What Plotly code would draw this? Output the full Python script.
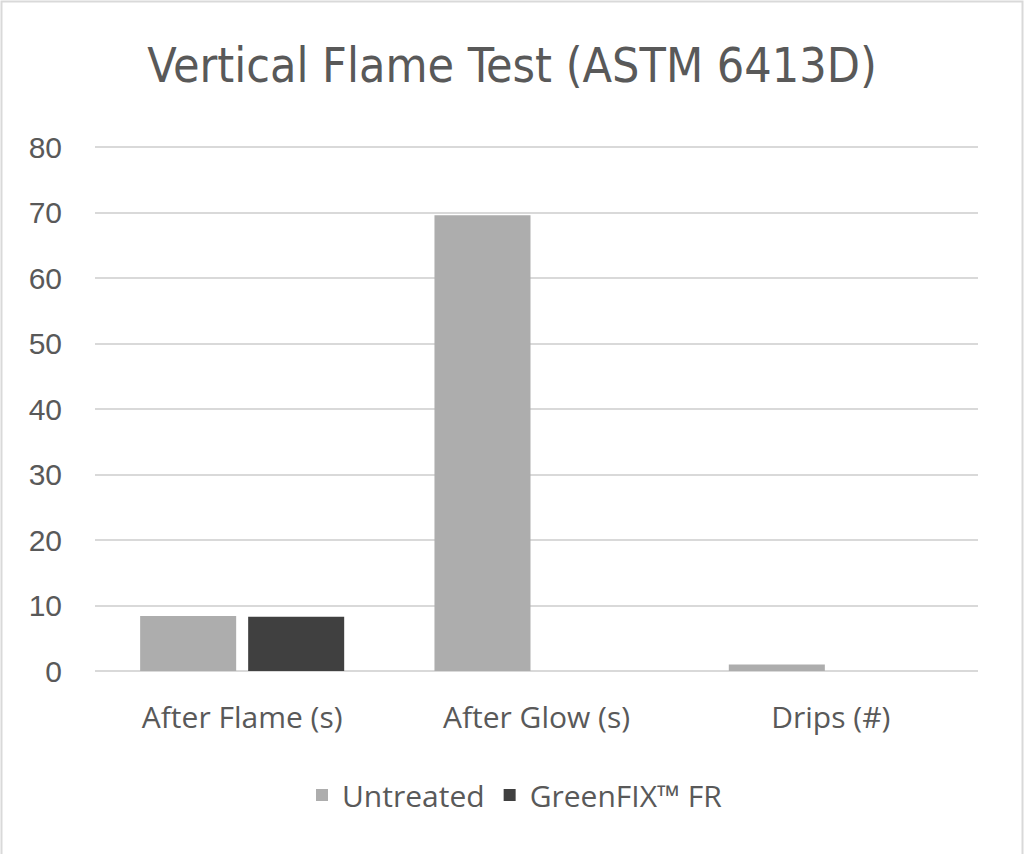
import plotly.graph_objects as go

categories = ["After Flame (s)", "After Glow (s)", "Drips (#)"]
untreated = [8.4, 69.6, 1]
greenfix = [8.3, 0, 0]
series_names = ["Untreated", "GreenFIX™ FR"]
y_ticks = [0, 10, 20, 30, 40, 50, 60, 70, 80]

W, H = 1024, 854
ML, MR, MT, MB = 95, 46, 140, 183
Y_TOP = 81.07

fig = go.Figure()
fig.add_bar(x=categories, y=untreated, name=series_names[0],
            marker=dict(color="#adadad", line=dict(width=0)))
fig.add_bar(x=categories, y=greenfix, name=series_names[1],
            marker=dict(color="#404040", line=dict(width=0)))

pw = W - ML - MR
ph = H - MT - MB
x0 = (1.5 - ML) / pw
x1 = (W - 1.5 - ML) / pw
y0 = (MB - H + 1.5) / ph
y1 = (H - 1.5 - MB) / ph

fig.update_layout(
    width=W, height=H,
    margin=dict(l=ML, r=MR, t=MT, b=MB),
    paper_bgcolor="white", plot_bgcolor="white",
    barmode="group", bargap=0.266, bargroupgap=0.111,
    title=dict(text="Vertical Flame Test (ASTM 6413D)", x=0.5, xanchor="center",
               y=1 - 65 / H, yanchor="middle",
               font=dict(family="Liberation Sans Narrow, DejaVu Sans Condensed, sans-serif",
                         size=48, color="#595959")),
    font=dict(family="Liberation Sans, Arial, sans-serif", color="#595959"),
    xaxis=dict(showgrid=False, showline=False, ticks="", ticklabelstandoff=26,
               tickfont=dict(family="Open Sans, Liberation Sans, sans-serif", size=30, color="#595959")),
    yaxis=dict(range=[0, Y_TOP], tickvals=y_ticks, showgrid=True, gridcolor="#d9d9d9",
               gridwidth=2, zeroline=True, zerolinecolor="#d9d9d9", zerolinewidth=2,
               showline=False, ticks="", ticklabelstandoff=32,
               tickfont=dict(size=30, color="#595959")),
    legend=dict(orientation="h", x=(322 - 20 - ML) / pw, xanchor="left",
                y=-(795 - 671) / ph, yanchor="middle",
                font=dict(family="Open Sans, Liberation Sans, sans-serif",
                          size=30, color="#595959"),
                itemwidth=30, traceorder="normal"),
    shapes=[dict(type="rect", xref="paper", yref="paper", x0=x0, x1=x1, y0=y0, y1=y1,
                 line=dict(color="#d9d9d9", width=2), fillcolor="rgba(0,0,0,0)", layer="below")],
    showlegend=True,
)

fig.write_html("out.html")
